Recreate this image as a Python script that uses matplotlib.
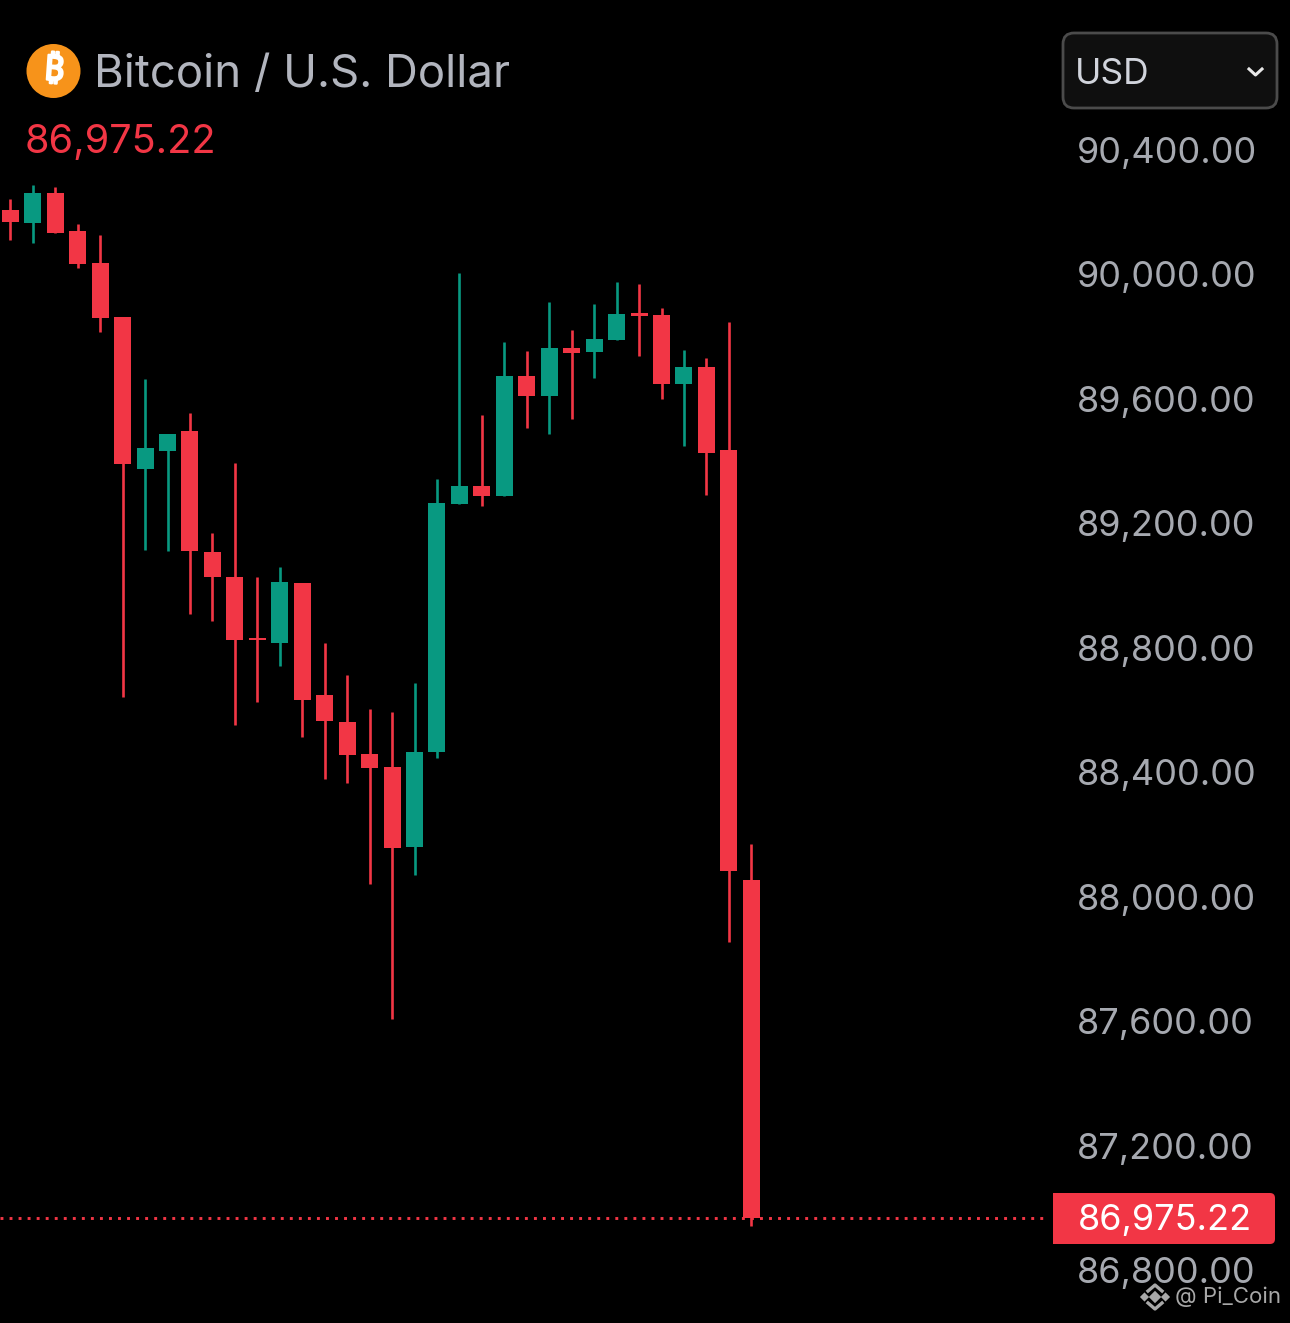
import matplotlib
matplotlib.use('Agg')
import matplotlib.pyplot as plt
import matplotlib.patheffects as pe
from matplotlib.patches import Circle, FancyBboxPatch, Rectangle
from matplotlib.transforms import ScaledTranslation

plt.rcParams['font.family'] = ['Inter', 'DejaVu Sans']

# Candles
opens = [90215, 90173, 90270, 90148, 90045, 89871, 89383, 89441, 89505, 89116, 89035, 88839,
         88823, 89016, 88656, 88569, 88467, 88425, 88168, 88473, 89270, 89328, 89296, 89682,
         89617, 89772, 89759, 89797, 89884, 89878, 89656, 89710, 89444, 88062]
highs = [90250, 90295, 90289, 90170, 90135, 89871, 89672, 89495, 89563, 89177, 89402, 89035,
         89068, 89016, 88823, 88720, 88611, 88602, 88695, 89350, 90013, 89556, 89791, 89762,
         89919, 89829, 89913, 89984, 89977, 89900, 89765, 89739, 89855, 88177]
lows = [90119, 90109, 90141, 90029, 89823, 88650, 89122, 89119, 88917, 88894, 88560, 88634,
        88749, 88521, 88386, 88373, 88049, 87615, 88078, 88454, 89270, 89264, 89296, 89514,
        89495, 89543, 89675, 89797, 89746, 89608, 89457, 89299, 87862, 86950]
closes = [90177, 90270, 90141, 90042, 89868, 89399, 89450, 89495, 89119, 89035, 88833, 88833,
          89019, 88640, 88573, 88463, 88422, 88164, 88473, 89273, 89328, 89296, 89682, 89617,
          89772, 89755, 89800, 89881, 89874, 89656, 89710, 89434, 88090, 86975.22]

price_ticks = [90400, 90000, 89600, 89200, 88800, 88400, 88000, 87600, 87200, 86800]
last_price = 86975.22
title = 'Bitcoin / U.S. Dollar'
currency = 'USD'
watermark = '@ Pi_Coin'

RED = '#f23645'
GREEN = '#089981'
GREY = '#a6a9b0'

fig = plt.figure(figsize=(12.9, 13.23), dpi=100, facecolor='black')
ax = fig.add_axes([0, 0, 1, 1], facecolor='black')
ax.set_xlim(-0.46, 56.99)
ax.set_ylim(86637.8, 90890.2)
for side in ax.spines.values():
    side.set_visible(False)

# Wicks then bodies
xs = list(range(len(opens)))
colors = [GREEN if c >= o else RED for o, c in zip(opens, closes)]
ax.vlines(xs, lows, highs, colors=colors, linewidth=1.9, zorder=2)
ax.bar(xs, [abs(c - o) for o, c in zip(opens, closes)], bottom=[min(o, c) for o, c in zip(opens, closes)],
       width=0.76, color=colors, linewidth=0, zorder=3)

# Last price line
ax.axhline(last_price, xmin=0, xmax=1047 / 1290, color=RED, linewidth=2.1, linestyle=(0, (1.0, 2.1)), zorder=1)

# Price scale
ax.set_xticks([])
ax.yaxis.tick_right()
ax.set_yticks(price_ticks)
ax.set_yticklabels([f'{p:,.2f}' for p in price_ticks])
ax.tick_params(axis='y', length=0, pad=-153.2, labelsize=25.95, labelcolor=GREY)
shift = ScaledTranslation(0, 2.5 / 100, fig.dpi_scale_trans)
for label in ax.get_yticklabels():
    label.set_transform(label.get_transform() + shift)

# Header, button, price tag in pixel coordinates
ui = fig.add_axes([0, 0, 1, 1], facecolor='none')
ui.set_xlim(0, 1290)
ui.set_ylim(1323, 0)
ui.axis('off')

ui.add_patch(Circle((53.5, 71), 27, color='#f7931a', linewidth=0))
coin = ui.text(54, 71, '\u20bf', color='white', fontsize=25, fontweight='bold', rotation=-4,
               ha='center', va='center',
               family=['Noto Sans', 'Roboto', 'Open Sans', 'Lato', 'Liberation Sans', 'Noto Sans CJK SC', 'DejaVu Sans'])
coin.set_path_effects([pe.withStroke(linewidth=1.6, foreground='white')])
ui.text(94, 75, title, color='#b2b5be', fontsize=32.8, va='center', ha='left')
ui.text(25, 142, f'{last_price:,.2f}', color=RED, fontsize=28.6, va='center', ha='left')

ui.add_patch(FancyBboxPatch((1073, 43), 194, 55, boxstyle='round,pad=10,rounding_size=11',
                            facecolor='#0f0f0f', edgecolor='#4b4b4b', linewidth=2))
ui.text(1075, 74, currency, color='#d1d4dc', fontsize=25.5, va='center', ha='left')
ui.plot([1249, 1255.5, 1262], [69, 75, 69], color='#e8e8e8', linewidth=2.2)

ui.add_patch(FancyBboxPatch((1058, 1198), 212, 41, boxstyle='round,pad=5,rounding_size=5',
                            facecolor=RED, edgecolor='none'))
ui.add_patch(Rectangle((1053, 1193), 60, 51, facecolor=RED, edgecolor='none'))
ui.text(1078, 1220, f'{last_price:,.2f}', color='white', fontsize=25.95, va='center', ha='left')

# Watermark
mark = '#a8a8a8'
ui.plot([1148, 1155, 1162], [1291, 1285, 1291], color=mark, linewidth=2.4)
ui.plot([1148, 1155, 1162], [1303, 1309, 1303], color=mark, linewidth=2.4)
ui.scatter([1144.5, 1155, 1165.5], [1297, 1297, 1297], marker='D', s=[22, 40, 22], color=mark, linewidth=0)
ui.text(1175, 1297, watermark, color=mark, fontsize=16, va='center', ha='left')

fig.savefig('out.png', dpi=100, facecolor='black')
